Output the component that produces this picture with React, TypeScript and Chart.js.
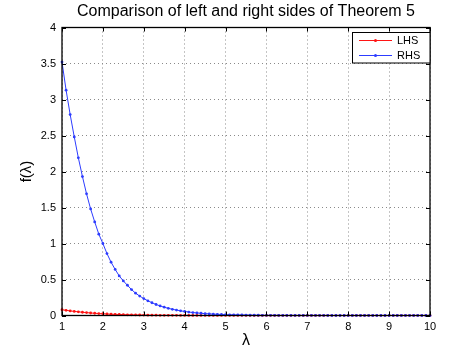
import React, { useEffect, useRef } from "react";
import { Chart, registerables } from "chart.js";

Chart.register(...registerables);

const titleText = "Comparison of left and right sides of Theorem 5";
const xLabel = "λ";
const yLabel = "f(λ)";
const seriesNames = ["LHS", "RHS"];

const lambdaValues = [
  1.0, 1.1, 1.2, 1.3, 1.4, 1.5, 1.6, 1.7, 1.8, 1.9,
  2.0, 2.1, 2.2, 2.3, 2.4, 2.5, 2.6, 2.7, 2.8, 2.9,
  3.0, 3.1, 3.2, 3.3, 3.4, 3.5, 3.6, 3.7, 3.8, 3.9,
  4.0, 4.1, 4.2, 4.3, 4.4, 4.5, 4.6, 4.7, 4.8, 4.9,
  5.0, 5.1, 5.2, 5.3, 5.4, 5.5, 5.6, 5.7, 5.8, 5.9,
  6.0, 6.1, 6.2, 6.3, 6.4, 6.5, 6.6, 6.7, 6.8, 6.9,
  7.0, 7.1, 7.2, 7.3, 7.4, 7.5, 7.6, 7.7, 7.8, 7.9,
  8.0, 8.1, 8.2, 8.3, 8.4, 8.5, 8.6, 8.7, 8.8, 8.9,
  9.0, 9.1, 9.2, 9.3, 9.4, 9.5, 9.6, 9.7, 9.8, 9.9,
  10.0,
];

const lhsValues = [
  0.080, 0.072, 0.064, 0.057, 0.051, 0.045, 0.040, 0.035, 0.031, 0.027,
  0.024, 0.021, 0.018, 0.016, 0.014, 0.012, 0.010, 0.009, 0.008, 0.007,
  0.006, 0.005, 0.004, 0.004, 0.003, 0.003, 0.002, 0.002, 0.002, 0.001,
  0.001, 0.001, 0.001, 0.001, 0.001, 0.001, 0.0005, 0.0005, 0.0005, 0.0005,
  0.0005, 0.0005, 0.0005, 0.0005, 0.0005, 0.0005, 0.0002, 0.0002, 0.0002, 0.0002,
  0.0002, 0.0002, 0.0002, 0.0002, 0.0002, 0.0002, 0.0002, 0.0002, 0.0002, 0.0002,
  0.0002, 0.0001, 0.0001, 0.0001, 0.0001, 0.0001, 0.0001, 0.0001, 0.0001, 0.0001,
  0.0001, 0.0001, 0.0001, 0.0001, 0.0001, 0.0001, 0.0001, 0.0001, 0.0001, 0.0001,
  0.0001, 0.0001, 0.0001, 0.0001, 0.0001, 0.0001, 0.0001, 0.0001, 0.0001, 0.0001,
  0.0001,
];

const rhsValues = [
  3.52, 3.13, 2.79, 2.48, 2.19, 1.93, 1.69, 1.48, 1.30, 1.13,
  1.00, 0.86, 0.74, 0.64, 0.55, 0.48, 0.42, 0.36, 0.31, 0.27,
  0.235, 0.204, 0.177, 0.153, 0.133, 0.115, 0.100, 0.086, 0.075, 0.065,
  0.056, 0.048, 0.041, 0.036, 0.031, 0.026, 0.023, 0.019, 0.017, 0.014,
  0.012, 0.010, 0.009, 0.008, 0.007, 0.006, 0.005, 0.004, 0.0035, 0.003,
  0.0025, 0.002, 0.002, 0.0015, 0.0015, 0.001, 0.001, 0.001, 0.0008, 0.0007,
  0.0006, 0.0005, 0.0005, 0.0004, 0.0004, 0.0003, 0.0003, 0.0003, 0.0002, 0.0002,
  0.0002, 0.0001, 0.0001, 0.0001, 0.0001, 0.0001, 0.0001, 0.0001, 0.0001, 0.0001,
  0.0001, 0.0001, 0.0001, 0.0001, 0.0001, 0.0001, 0.0001, 0.0001, 0.0001, 0.0001,
  0.0001,
];

const seriesColors = ["rgb(255,20,20)", "rgb(45,60,255)"];

const FONT = "'Liberation Sans', Arial, Helvetica, sans-serif";

const decorPlugin = {
  id: "decor",
  afterDraw(chart: any) {
    const ctx = chart.ctx as CanvasRenderingContext2D;
    const area = chart.chartArea;
    const xs = chart.scales.x;
    const ys = chart.scales.y;
    ctx.save();
    // inward ticks
    ctx.strokeStyle = "#000";
    ctx.lineWidth = 1;
    const tl = 4;
    ctx.beginPath();
    xs.ticks.forEach((t: any) => {
      const px = Math.round(xs.getPixelForValue(t.value)) + 0.5;
      ctx.moveTo(px, area.bottom);
      ctx.lineTo(px, area.bottom - tl);
      ctx.moveTo(px, area.top);
      ctx.lineTo(px, area.top + tl);
    });
    ys.ticks.forEach((t: any) => {
      const py = Math.round(ys.getPixelForValue(t.value)) + 0.5;
      ctx.moveTo(area.left, py);
      ctx.lineTo(area.left + tl, py);
      ctx.moveTo(area.right, py);
      ctx.lineTo(area.right - tl, py);
    });
    ctx.stroke();
    // frame
    ctx.lineWidth = 1.3;
    ctx.strokeRect(area.left, area.top, area.right - area.left, area.bottom - area.top);

    // title
    ctx.fillStyle = "#000";
    ctx.textAlign = "center";
    ctx.textBaseline = "middle";
    ctx.font = `16px ${FONT}`;
    ctx.fillText(titleText, (area.left + area.right) / 2, 12);

    // x label
    ctx.font = `16px ${FONT}`;
    ctx.fillText(xLabel, (area.left + area.right) / 2, 341);

    // y label
    ctx.save();
    ctx.translate(27, (area.top + area.bottom) / 2);
    ctx.rotate(-Math.PI / 2);
    ctx.font = `15px ${FONT}`;
    ctx.fillText(yLabel, 0, 0);
    ctx.restore();

    // legend
    const lx = 352.5, ly = 32.5, lw = 77.5, lh = 30.5;
    ctx.fillStyle = "#fff";
    ctx.fillRect(lx, ly, lw, lh);
    ctx.strokeStyle = "#000";
    ctx.lineWidth = 1;
    ctx.strokeRect(lx, ly, lw, lh);
    seriesNames.forEach((name, i) => {
      const yy = 40 + i * 15;
      ctx.strokeStyle = seriesColors[i];
      ctx.lineWidth = 1;
      ctx.beginPath();
      ctx.moveTo(359, yy + 0.5);
      ctx.lineTo(392, yy + 0.5);
      ctx.stroke();
      ctx.fillStyle = seriesColors[i];
      ctx.beginPath();
      ctx.arc(375.5, yy + 0.5, 1.5, 0, Math.PI * 2);
      ctx.fill();
      ctx.fillStyle = "#000";
      ctx.textAlign = "left";
      ctx.textBaseline = "middle";
      ctx.font = `11px ${FONT}`;
      ctx.fillText(name, 397, yy + 1);
    });
    ctx.restore();
  },
};

export default function App() {
  const ref = useRef<HTMLCanvasElement | null>(null);
  useEffect(() => {
    if (!ref.current) return;
    const mk = (vals: number[]) => lambdaValues.map((x, i) => ({ x, y: vals[i] }));
    const chart = new Chart(ref.current, {
      type: "line",
      data: {
        datasets: [
          {
            label: seriesNames[0],
            data: mk(lhsValues),
            borderColor: seriesColors[0],
            backgroundColor: seriesColors[0],
            borderWidth: 1,
            pointRadius: 1.4,
            pointBorderWidth: 0,
            pointBackgroundColor: seriesColors[0],
            tension: 0,
            clip: 4,
            order: 1,
          },
          {
            label: seriesNames[1],
            data: mk(rhsValues),
            borderColor: seriesColors[1],
            backgroundColor: seriesColors[1],
            borderWidth: 1,
            pointRadius: 1.4,
            pointBorderWidth: 0,
            pointBackgroundColor: seriesColors[1],
            tension: 0,
            clip: 4,
            order: 0,
          },
        ],
      },
      options: {
        animation: false,
        responsive: false,
        devicePixelRatio: 1,
        layout: { padding: { top: 27.5, right: 44, left: 0, bottom: 0 } },
        plugins: {
          legend: { display: false },
          title: { display: false },
          tooltip: { enabled: false },
        },
        scales: {
          x: {
            type: "linear",
            min: 1,
            max: 10,
            ticks: {
              stepSize: 1,
              color: "#000",
              font: { family: FONT, size: 11 },
              padding: 5,
              maxRotation: 0,
              callback: (v: any) => String(v),
            },
            grid: { color: "#8a8a8a", lineWidth: 1, drawTicks: false },
            border: { display: false, dash: [1, 3] },
            afterFit: (s: any) => {
              s.height = 40.5;
            },
          },
          y: {
            type: "linear",
            min: 0,
            max: 4,
            ticks: {
              stepSize: 0.5,
              color: "#000",
              font: { family: FONT, size: 11 },
              padding: 6,
              callback: (v: any) => String(v),
            },
            grid: { color: "#8a8a8a", lineWidth: 1, drawTicks: false },
            border: { display: false, dash: [1, 3] },
            afterFit: (s: any) => {
              s.width = 62;
            },
          },
        },
      },
      plugins: [decorPlugin],
    } as any);
    return () => chart.destroy();
  }, []);
  return (
    <div style={{ position: "absolute", left: 0, top: 0, width: 474, height: 356, background: "#fff" }}>
      <canvas ref={ref} width={474} height={356} style={{ width: 474, height: 356 }} />
    </div>
  );
}
